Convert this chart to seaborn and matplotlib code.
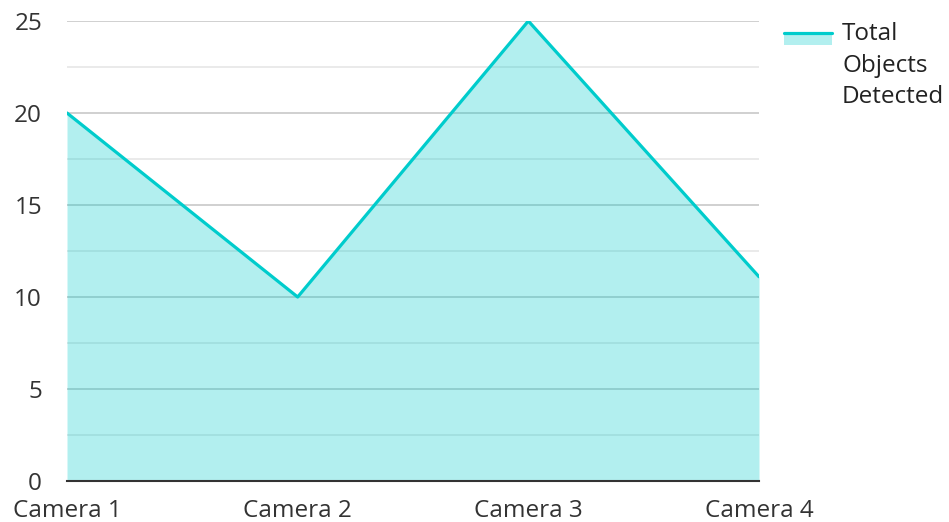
import matplotlib
matplotlib.use("Agg")
import matplotlib.pyplot as plt
import seaborn as sns
import pandas as pd
from matplotlib.lines import Line2D
from matplotlib.patches import Rectangle
from matplotlib.ticker import MultipleLocator

cameras = ["Camera 1", "Camera 2", "Camera 3", "Camera 4"]
objects_detected = [20, 10, 25, 11.1]
series_label = "Total\nObjects\nDetected"

sns.set_theme(style="white")
plt.rcParams['font.family'] = ['Open Sans', 'DejaVu Sans']

LINE = "#00cccc"
df = pd.DataFrame({"camera": cameras, "value": objects_detected})
df["pos"] = range(len(df))

fig = plt.figure(figsize=(9.49, 5.22), dpi=100)
ax = fig.add_axes([67/949, 1-481/522, (759-67)/949, (481-21)/522])

ax.fill_between(df["pos"], df["value"], 0, color=LINE, alpha=0.3, linewidth=0, zorder=2)
sns.lineplot(data=df, x="pos", y="value", ax=ax, color=LINE, linewidth=2.3, zorder=3)

ax.set_xlim(0, len(df) - 1)
ax.set_ylim(0, 25)
ax.set_xticks(df["pos"])
ax.set_xticklabels(cameras)
ax.yaxis.set_major_locator(MultipleLocator(5))
ax.yaxis.set_minor_locator(MultipleLocator(2.5))
ax.grid(which="major", axis="y", color="#c8c8c8", linewidth=1.2, zorder=1)
ax.grid(which="minor", axis="y", color="#e6e6e6", linewidth=1.2, zorder=1)
ax.set_axisbelow(True)
for s in ["top", "left", "right"]:
    ax.spines[s].set_visible(False)
ax.spines["bottom"].set_color("#333333")
ax.spines["bottom"].set_linewidth(1.5)
ax.spines["bottom"].set_zorder(4)
ax.tick_params(axis="both", which="both", length=0, labelsize=17.5, labelcolor="#333333")
ax.tick_params(axis="y", pad=18)
ax.tick_params(axis="x", pad=13)
ax.set_xlabel("")
ax.set_ylabel("")

# legend (outside, upper right)
fig.add_artist(Rectangle((784/949, 1-45/522), 48/949, 12/522, transform=fig.transFigure,
                         facecolor=LINE, alpha=0.3, linewidth=0))
fig.add_artist(Line2D([784/949, 832/949], [1-33/522, 1-33/522], transform=fig.transFigure,
                      color=LINE, linewidth=2.3))
fig.text(842/949, 1-22/522, series_label, ha="left", va="top", fontsize=17.5, color="#222222",
         linespacing=1.43, transform=fig.transFigure)

fig.savefig("out.png", dpi=100)
